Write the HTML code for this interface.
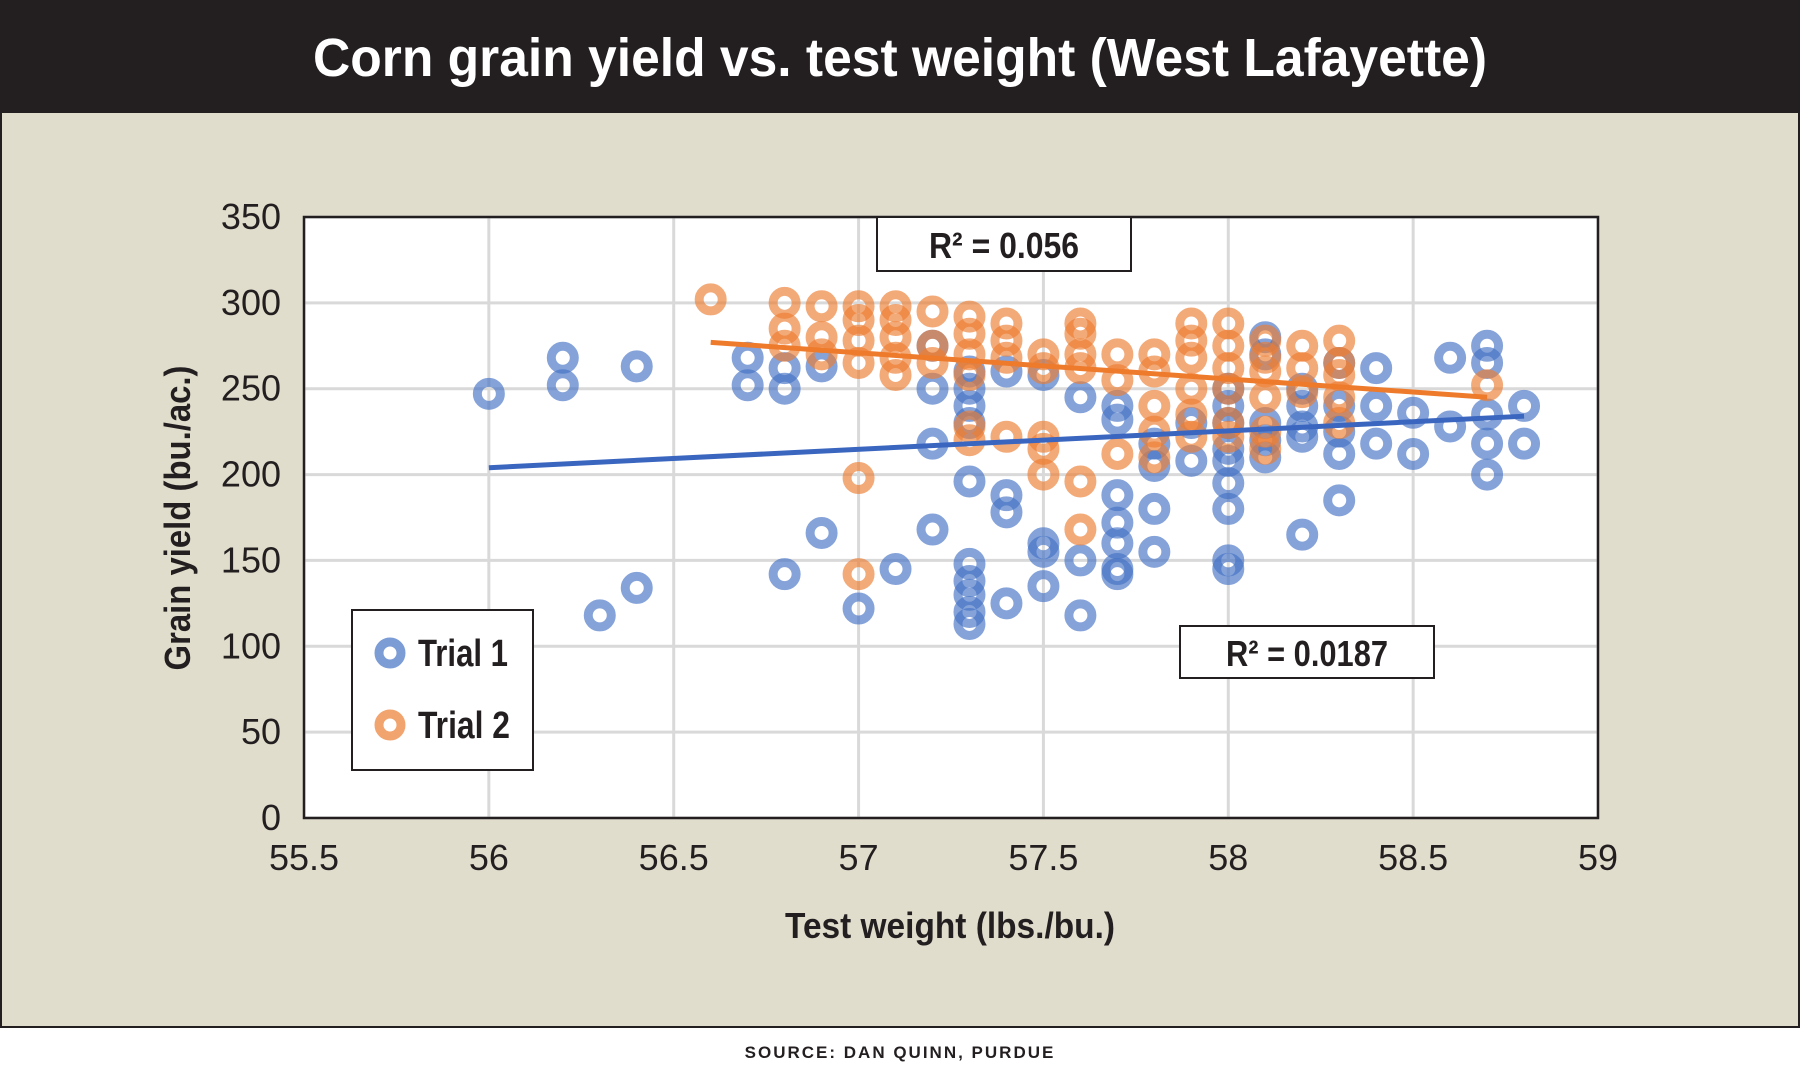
<!DOCTYPE html>
<html><head><meta charset="utf-8"><style>
html,body{margin:0;padding:0;background:#fff;}
svg{display:block;}
text{font-family:"Liberation Sans Narrow","Liberation Sans",sans-serif;}
</style></head><body>
<svg id="chart" width="1800" height="1079" viewBox="0 0 1800 1079">
<rect x="0" y="0" width="1800" height="112" fill="#231f20"/>
<text x="900" y="76" fill="#fff" font-size="54" font-weight="bold" text-anchor="middle" textLength="1174" lengthAdjust="spacingAndGlyphs">Corn grain yield vs. test weight (West Lafayette)</text>
<rect x="1" y="112" width="1798" height="915" fill="#e1ddcc" stroke="#231f20" stroke-width="2"/>
<rect x="304" y="217" width="1294" height="601" fill="#fff"/>
<g id="grid"></g>
<g id="pts"></g>
<g id="trends"></g>
<rect x="304" y="217" width="1294" height="601" fill="none" stroke="#231f20" stroke-width="2.5"/>
<g id="ticks"></g>
<text x="950" y="938" font-size="36" font-weight="bold" fill="#231f20" text-anchor="middle" textLength="330" lengthAdjust="spacingAndGlyphs">Test weight (lbs./bu.)</text>
<text transform="translate(190,518) rotate(-90)" font-size="36" font-weight="bold" fill="#231f20" text-anchor="middle" textLength="305" lengthAdjust="spacingAndGlyphs">Grain yield (bu./ac.)</text>
<g>
<rect x="877" y="217" width="254" height="54" fill="#fff" stroke="#231f20" stroke-width="2"/>
<text x="1004" y="258" font-size="36" font-weight="bold" fill="#231f20" text-anchor="middle" textLength="150" lengthAdjust="spacingAndGlyphs">R² = 0.056</text>
</g>
<g>
<rect x="1180" y="626" width="254" height="52" fill="#fff" stroke="#231f20" stroke-width="2"/>
<text x="1307" y="666" font-size="36" font-weight="bold" fill="#231f20" text-anchor="middle" textLength="162" lengthAdjust="spacingAndGlyphs">R² = 0.0187</text>
</g>
<g>
<rect x="352" y="610" width="181" height="160" fill="#fff" stroke="#231f20" stroke-width="2"/>
<g>
<circle cx="390" cy="653" r="11" fill="none" stroke="#4472c4" stroke-opacity="0.7" stroke-width="9"/>
<text x="418" y="666" font-size="38" font-weight="bold" fill="#231f20" textLength="90" lengthAdjust="spacingAndGlyphs">Trial 1</text>
</g>
<g>
<circle cx="390" cy="725" r="11" fill="none" stroke="#ed7d31" stroke-opacity="0.7" stroke-width="9"/>
<text x="418" y="738" font-size="38" font-weight="bold" fill="#231f20" textLength="92" lengthAdjust="spacingAndGlyphs">Trial 2</text>
</g>
</g>
<text x="900" y="1058" font-size="17" font-weight="bold" fill="#231f20" text-anchor="middle" letter-spacing="2">SOURCE: DAN QUINN, PURDUE</text>
</svg>
<script>
const xTicks=[55.5,56,56.5,57,57.5,58,58.5,59];
const xTickLabels=["55.5","56","56.5","57","57.5","58","58.5","59"];
const yTicks=[0,50,100,150,200,250,300,350];
const yTickLabels=["0","50","100","150","200","250","300","350"];
const t1x=[56.0,56.2,56.2,56.3,56.4,56.4,56.7,56.7,56.8,56.8,56.8,56.9,56.9,57.0,57.1,57.2,57.2,57.2,57.2,57.3,57.3,57.3,57.3,57.3,57.3,57.3,57.3,57.3,57.3,57.4,57.4,57.4,57.4,57.5,57.5,57.5,57.5,57.6,57.6,57.6,57.7,57.7,57.7,57.7,57.7,57.7,57.7,57.8,57.8,57.8,57.8,57.9,57.9,58.0,58.0,58.0,58.0,58.0,58.0,58.0,58.0,58.0,58.1,58.1,58.1,58.1,58.1,58.2,58.2,58.2,58.2,58.2,58.3,58.3,58.3,58.3,58.3,58.4,58.4,58.4,58.5,58.5,58.6,58.6,58.7,58.7,58.7,58.7,58.7,58.8,58.8];
const t1y=[247,268,252,118,263,134,268,252,262,250,142,263,166,122,145,275,250,218,168,260,250,240,230,196,148,138,130,120,113,260,188,178,125,258,160,155,135,245,150,118,240,232,188,172,160,145,142,218,205,180,155,230,208,250,240,230,215,208,195,180,150,145,280,270,230,220,210,250,240,228,222,165,265,240,225,212,185,262,240,218,236,212,268,228,275,265,235,218,200,240,218];
const t2x=[56.6,56.8,56.8,56.8,56.9,56.9,56.9,57.0,57.0,57.0,57.0,57.0,57.0,57.1,57.1,57.1,57.1,57.1,57.2,57.2,57.2,57.3,57.3,57.3,57.3,57.3,57.3,57.4,57.4,57.4,57.4,57.5,57.5,57.5,57.5,57.5,57.6,57.6,57.6,57.6,57.6,57.6,57.7,57.7,57.7,57.8,57.8,57.8,57.8,57.8,57.9,57.9,57.9,57.9,57.9,57.9,58.0,58.0,58.0,58.0,58.0,58.0,58.1,58.1,58.1,58.1,58.1,58.1,58.2,58.2,58.2,58.3,58.3,58.3,58.3,58.3,58.7];
const t2y=[302,300,285,275,298,280,270,298,290,278,265,198,142,298,290,280,268,258,295,275,265,292,282,270,258,228,220,288,278,268,222,270,262,222,215,200,288,282,270,262,196,168,270,255,212,270,260,240,225,210,288,278,268,250,235,222,288,275,262,250,230,222,278,268,260,245,225,215,275,262,248,278,265,258,245,230,252];
const trend1x=[56.0,58.8];
const trend1y=[204,234];
const trend2x=[56.6,58.7];
const trend2y=[277,245];
const X0=304,X1=1598,Y0=818,Y1=217;
function sx(v){return X0+(v-55.5)/(59-55.5)*(X1-X0);}
function sy(v){return Y0-(v-0)/(350-0)*(Y0-Y1);}
const NS="http://www.w3.org/2000/svg";
const grid=document.getElementById('grid');
const ticks=document.getElementById('ticks');
xTicks.forEach((t,i)=>{
  const l=document.createElementNS(NS,'line');
  
  
  l.setAttribute('x1',sx(t));l.setAttribute('x2',sx(t));l.setAttribute('y1',Y1);l.setAttribute('y2',Y0);
  l.setAttribute('stroke','#d9d9d9');l.setAttribute('stroke-width','3');
  grid.appendChild(l);
  const tx=document.createElementNS(NS,'text');
  
  
  tx.setAttribute('x',sx(t));tx.setAttribute('y',870);
  tx.setAttribute('text-anchor','middle');tx.setAttribute('font-size','36');tx.setAttribute('fill','#231f20');
  tx.textContent=xTickLabels[i];
  ticks.appendChild(tx);
});
yTicks.forEach((t,i)=>{
  const l=document.createElementNS(NS,'line');
  
  
  l.setAttribute('x1',X0);l.setAttribute('x2',X1);l.setAttribute('y1',sy(t));l.setAttribute('y2',sy(t));
  l.setAttribute('stroke','#d9d9d9');l.setAttribute('stroke-width','3');
  grid.appendChild(l);
  const tx=document.createElementNS(NS,'text');
  
  
  tx.setAttribute('x',281);tx.setAttribute('y',sy(t)+12);
  tx.setAttribute('text-anchor','end');tx.setAttribute('font-size','36');tx.setAttribute('fill','#231f20');
  tx.textContent=yTickLabels[i];
  ticks.appendChild(tx);
});
const pts=document.getElementById('pts');
function ring(x,y,col,name){
  const c=document.createElementNS(NS,'circle');
  
  
  c.setAttribute('cx',sx(x));c.setAttribute('cy',sy(y));c.setAttribute('r','11.5');
  c.setAttribute('fill','none');c.setAttribute('stroke',col);c.setAttribute('stroke-width','9');c.setAttribute('stroke-opacity','0.65');
  pts.appendChild(c);
}
t1x.forEach((x,i)=>ring(x,t1y[i],'#4472c4','trial1-point'));
t2x.forEach((x,i)=>ring(x,t2y[i],'#ed7d31','trial2-point'));
const tr=document.getElementById('trends');
function line(xs,ys,col,name){
  const l=document.createElementNS(NS,'line');
  
  
  l.setAttribute('x1',sx(xs[0]));l.setAttribute('y1',sy(ys[0]));l.setAttribute('x2',sx(xs[1]));l.setAttribute('y2',sy(ys[1]));
  l.setAttribute('stroke',col);l.setAttribute('stroke-width','5');
  tr.appendChild(l);
}
line(trend1x,trend1y,'#3a66c0','trial1-trendline');
line(trend2x,trend2y,'#ee7b2c','trial2-trendline');
</script>
</body></html>
